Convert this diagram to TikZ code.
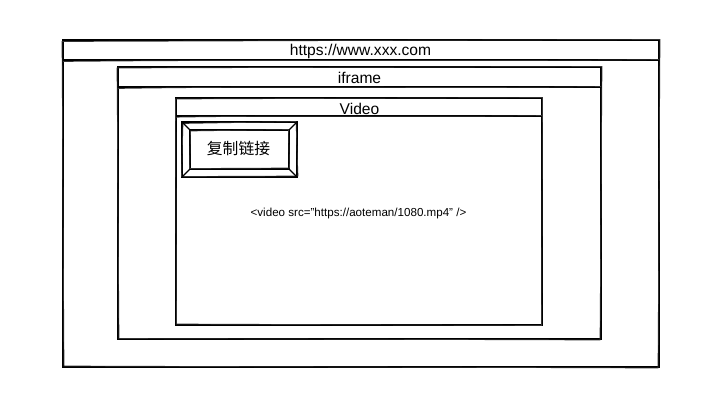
\documentclass[tikz,border=0pt]{standalone}
\usepackage{fontspec}
\setmainfont{Liberation Sans}
\newfontfamily\cjk{Noto Sans CJK SC}
\begin{document}
\begin{tikzpicture}[x=1bp,y=-1bp,
  sk/.style={draw=black,line width=1.3bp},
  sk2/.style={draw=black!80,line width=0.7bp},
  ttl/.style={font=\fontsize{15.6bp}{17bp}\selectfont,inner sep=0pt},
  vtxt/.style={font=\fontsize{11.6bp}{13bp}\selectfont,inner sep=0pt},
  btxt/.style={font=\cjk\fontsize{15.8bp}{18bp}\selectfont,inner sep=0pt}]
\useasboundingbox[fill=white] (0,0) rectangle (720,415);
% outer page
\draw[sk] (63,40) rectangle (659,367);
\draw[sk2] (62,41.5) -- (660,39.5) -- (658,368) -- (64,366) -- cycle;
\draw[sk] (63,60) -- (659,60);
\draw[sk2] (63,61.5) .. controls (300,59) and (450,62) .. (659,59.5);
\node[ttl] (url) at (360.5,51) {https://www.xxx.com};
% iframe
\draw[sk] (118,67) rectangle (601,339);
\draw[sk2] (117,68) -- (602,66.5) -- (600,340) -- (119,338.5) -- cycle;
\draw[sk] (118,87) -- (601,87);
\draw[sk2] (118,88.5) .. controls (300,85.5) and (450,89) .. (601,86.5);
\node[ttl] (ifr) at (359.5,78) {iframe};
% video
\draw[sk] (176,98) rectangle (542,325);
\draw[sk2] (175.5,99) -- (542.5,97.5) -- (541.5,325.5) -- (176.5,324) -- cycle;
\draw[sk] (176,116) -- (542,116);
\draw[sk2] (176,117.2) .. controls (300,115) and (420,117.5) .. (542,115.5);
\node[ttl] (vid) at (359.5,108.5) {Video};
% button
\draw[sk] (182,122) rectangle (297,177);
\draw[sk2] (183,123.5) -- (296,121.5) -- (298,176) -- (181.5,176.5) -- cycle;
\draw[sk] (190,130) rectangle (289,169);
\draw[sk2] (190.5,131) -- (288.5,129.5) -- (289.5,168) -- (189.5,168.5) -- cycle;
\draw[sk] (182,122) -- (190,130) (297,122) -- (289,130) (182,177) -- (190,169) (297,177) -- (289,169);
\node[btxt] (btn) at (238.5,148.5) {复制链接};
% video tag
\node[vtxt] (tag) at (358.5,213) {<video src="https://aoteman/1080.mp4" />};
\end{tikzpicture}
\end{document}
